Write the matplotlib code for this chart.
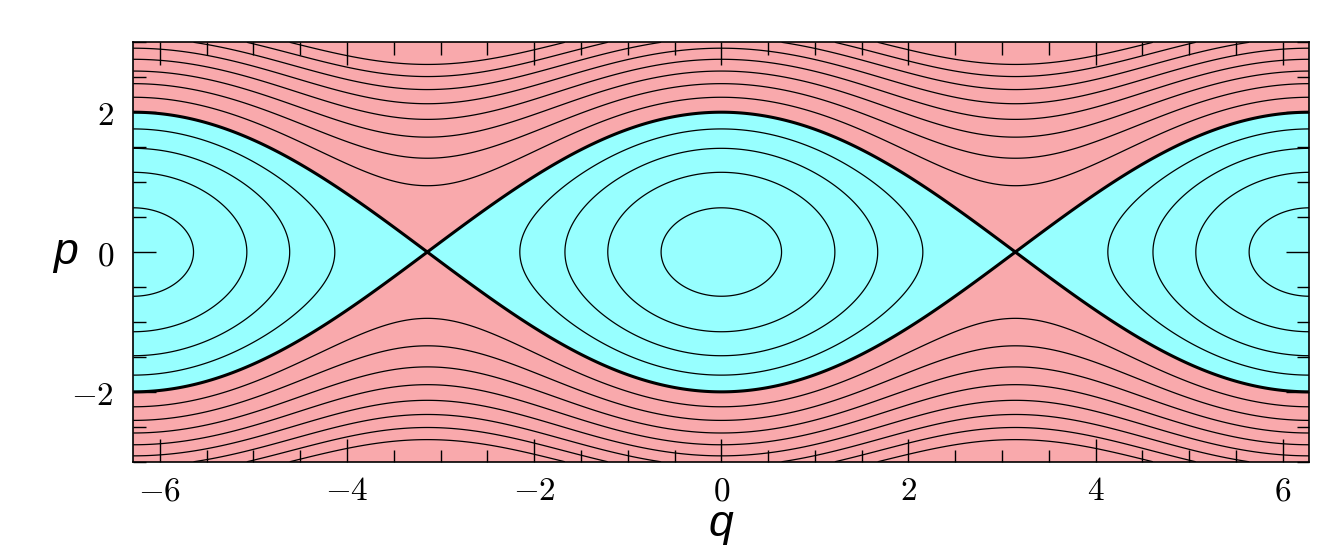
import numpy as np
import matplotlib
matplotlib.use("Agg")
import matplotlib.pyplot as plt
from matplotlib.ticker import MultipleLocator, FixedLocator, FixedFormatter

plt.rcParams['mathtext.fontset'] = 'cm'

# pendulum H = p^2/2 - cos q : energy levels
niveis_dentro = [-0.8, -0.35, 0.1, 0.55]
separatriz = [1.0]
niveis_fora = [1.45, 1.9, 2.35, 2.8, 3.25, 3.7, 4.15, 4.6]

xticks = [-6, -4, -2, 0, 2, 4, 6]
xlabels = ['$-6$', '$-4$', '$-2$', '$0$', '$2$', '$4$', '$6$']
yticks = [-2, 0, 2]
ylabels = ['$-2$', '$0$', '$2$']

cor_rosa = '#F9A9AC'
cor_ciano = '#97FFFF'

# grade
q = np.linspace(-2 * np.pi, 2 * np.pi, 1200)
p = np.linspace(-3, 3, 800)
Q, P = np.meshgrid(q, p)
H = 0.5 * P**2 - np.cos(Q)

fig = plt.figure(figsize=(13.41, 5.55), dpi=100)
ax = fig.add_axes([0.0994, 0.168, 0.877, 0.7558])

ax.contourf(Q, P, H, levels=[-5, 1.0, 50], colors=[cor_ciano, cor_rosa])
ax.contour(Q, P, H, levels=niveis_dentro + niveis_fora, colors='black',
           linewidths=0.9, linestyles='solid')
ax.contour(Q, P, H, levels=separatriz, colors='black', linewidths=2.2, linestyles='solid')

ax.set_xlim(-2 * np.pi, 2 * np.pi)
ax.set_ylim(-3, 3)

ax.xaxis.set_major_locator(FixedLocator(xticks))
ax.xaxis.set_major_formatter(FixedFormatter(xlabels))
ax.yaxis.set_major_locator(FixedLocator(yticks))
ax.yaxis.set_major_formatter(FixedFormatter(ylabels))
ax.xaxis.set_minor_locator(MultipleLocator(0.5))
ax.yaxis.set_minor_locator(MultipleLocator(0.5))

ax.tick_params(which='both', direction='in', top=True, right=True, width=1.0, colors='black')
ax.tick_params(which='major', length=16.5, labelsize=24)
ax.tick_params(which='minor', length=9)
ax.tick_params(axis='x', which='major', pad=9)
ax.tick_params(axis='y', which='major', pad=14)

for s in ax.spines.values():
    s.set_linewidth(1.2)

ax.set_xlabel('q', fontsize=32, fontstyle='italic', family='Liberation Sans', labelpad=-2)
ax.set_ylabel('p', fontsize=32, fontstyle='italic', family='Liberation Sans', rotation=0, labelpad=4, va='center')

fig.savefig('out.png', dpi=100)
